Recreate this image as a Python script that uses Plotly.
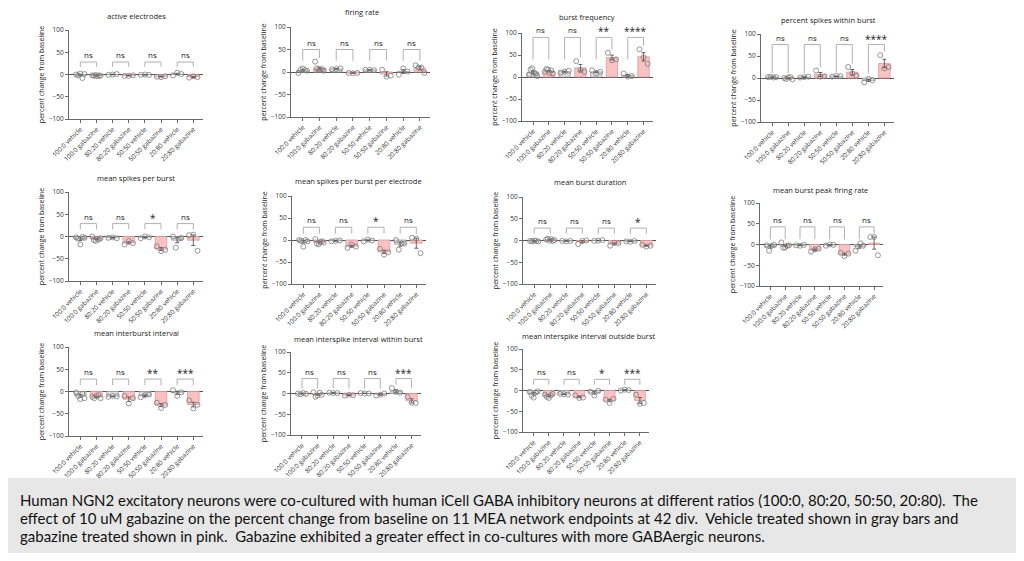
import numpy as np
import plotly.graph_objects as go

categories = ["100:0 vehicle", "100:0 gabazine", "80:20 vehicle", "80:20 gabazine",
              "50:50 vehicle", "50:50 gabazine", "20:80 vehicle", "20:80 gabazine"]

titles = ["active electrodes", "firing rate", "burst frequency", "percent spikes within burst",
          "mean spikes per burst", "mean spikes per burst per electrode", "mean burst duration",
          "mean burst peak firing rate", "mean interburst interval",
          "mean interspike interval within burst", "mean interspike interval outside burst"]

# individual wells, percent change from baseline
active_electrodes = [[0, -2, 2, -8, 1], [-2, -3, -1, -4, -2, -3], [-1, 0, 1], [-3, -3, -2],
                     [-1, 0, -1], [-5, -6, -4], [-2, 4, 1], [-7, -4, -6]]
firing_rate = [[-2, 5, 8, 4, 3], [23, 8, 5, 4, 6, 3], [6, 7, 8], [-2, -3, -2],
               [5, 5, 4], [5, -10, -8], [-6, 8, 1], [15, 10, 10, -2]]
burst_frequency = [[5, 17, 20, 10, 8, 2], [12, 18, 17, 10, 15, 8], [10, 12, 14], [36, 15, 12],
                   [15, 8, 12], [55, 38, 40], [8, 1, 2], [63, 45, 30]]
pct_spikes_in_burst = [[2, 3, 1, 2], [0, -2, 1, 2, -3], [1, 2, 3], [17, 3, 4],
                       [3, 5, 4], [25, 10, 5], [-10, -2, -5], [52, 22, 25]]
spikes_per_burst = [[-2, -5, -18, -1, -3], [0, -8, -10, -5, -7, -4], [-3, -2, -4], [-18, -10, -15],
                    [-4, 0, -2], [-22, -33, -30], [0, -25, -5, -3], [3, 4, -32]]
spikes_per_burst_electrode = [[0, -2, -15, 0, -3], [2, -8, -10, -5, -3, -6], [-3, -2, -1], [-18, -10, -15],
                              [-3, 1, -1], [-20, -33, -28], [0, -22, -8, -8], [5, 3, -30]]
burst_duration = [[-1, -2, 0, -1, -2], [2, 4, 0, 3, -1, 1], [-1, -2, -1], [-8, -1, 0],
                  [-1, 0, 1], [-12, -5, -6], [-2, -3, -1], [-10, -14, -12]]
burst_peak_rate = [[-2, -15, -3, -1], [5, -8, -7, -3, -2], [-2, -3, -1], [-17, -12, -10],
                   [-3, 0, -1], [-20, -28, -22], [-15, -5, 3, -3], [18, 18, -26]]
interburst_interval = [[-2, -10, -17, -5, -15], [-12, -15, -10, -8, -15], [-12, -10, -11], [-10, -27, -15],
                       [-13, -8, -7], [-25, -37, -30], [3, -10, -2], [-20, -38, -30]]
isi_within_burst = [[0, -2, 1, -1], [3, -8, -5, 2, -3], [2, 1, 1], [-5, -3, -4],
                    [1, 0, 0], [-5, -3, 0], [13, 4, 2], [-8, -22, -23]]
isi_outside_burst = [[-3, -12, -17, -5, -2], [-10, -15, -18, -12, -8], [-8, -9, -10], [-12, -18, -17],
                     [-3, -12, -1], [-22, -30, -20], [0, 2, 1], [-10, -32, -30]]

endpoints = [active_electrodes, firing_rate, burst_frequency, pct_spikes_in_burst,
             spikes_per_burst, spikes_per_burst_electrode, burst_duration, burst_peak_rate,
             interburst_interval, isi_within_burst, isi_outside_burst]

significance = [["ns", "ns", "ns", "ns"], ["ns", "ns", "ns", "ns"], ["ns", "ns", "**", "****"],
                ["ns", "ns", "ns", "****"], ["ns", "ns", "*", "ns"], ["ns", "ns", "*", "ns"],
                ["ns", "ns", "ns", "*"], ["ns", "ns", "ns", "ns"], ["ns", "ns", "**", "***"],
                ["ns", "ns", "ns", "***"], ["ns", "ns", "*", "***"]]

caption_lines = [
    "Human NGN2 excitatory neurons were co-cultured with human iCell GABA inhibitory neurons at different ratios (100:0, 80:20, 50:50, 20:80).\u00a0 The",
    "effect of 10 uM gabazine on the percent change from baseline on 11 MEA network endpoints at 42 div.\u00a0 Vehicle treated shown in gray bars and",
    "gabazine treated shown in pink.\u00a0 Gabazine exhibited a greater effect in co-cultures with more GABAergic neurons.",
]

# panel boxes in window pixels: x left, x right, y of +100, y of -100
boxes = [(69, 203, 30, 119), (291, 430, 27, 117), (522, 653, 33, 121), (761, 894, 34, 122),
         (69, 203, 192, 281), (292, 426, 196, 284), (523, 656, 197, 284), (760, 883, 203, 286),
         (69, 203, 347, 436), (291, 421, 352, 435), (523, 649, 349, 432)]
title_pos = [(136, 16), (362, 12), (587, 17), (828, 20), (136, 178), (358, 181), (590, 182),
             (820, 190), (136, 333), (358, 339), (588, 336)]
bracket_top = [28, 50, 90, 76, 29, 29, 28.5, 42.5, 28, 36, 27]
leg_len = [11, 25, 50, 66, 13, 15, 13, 30, 14, 24, 13]

# page body has an 8px margin on every side; keep the figure inside the window
OFF = 8
W, H = 1024 - 2 * OFF, 561 - 2 * OFF


def fx(p):
    return (p - OFF) / W


def fy(p):
    return 1 - (p - OFF) / H


FONT = "Open Sans, Noto Sans, sans-serif"
veh_fill, gab_fill = "#e0e0e0", "#f8c2c2"
veh_line, gab_line = "#a0a0a0", "#e09a9a"

fig = go.Figure()
annotations = []

for i, pts in enumerate(endpoints):
    k = i + 1
    xa = "x" if k == 1 else "x%d" % k
    ya = "y" if k == 1 else "y%d" % k
    means = [np.mean(p) for p in pts]
    sems = [np.std(p, ddof=1) / np.sqrt(len(p)) for p in pts]
    xs = list(range(len(categories)))

    fig.add_trace(go.Bar(
        x=xs, y=means, width=0.72, xaxis=xa, yaxis=ya,
        marker=dict(color=[veh_fill, gab_fill] * 4,
                    line=dict(color=[veh_line, gab_line] * 4, width=0.8)),
        error_y=dict(type="data", array=sems, color="#444", thickness=0.8, width=2),
        showlegend=False, hoverinfo="skip"))

    px_, py_ = [], []
    for j, p in enumerate(pts):
        offs = np.linspace(-0.26, 0.26, len(p))
        px_ += list(j + offs)
        py_ += list(p)
    fig.add_trace(go.Scatter(
        x=px_, y=py_, mode="markers", xaxis=xa, yaxis=ya,
        marker=dict(symbol="circle-open", size=5, color="#7a7a7a", line=dict(width=0.8)),
        showlegend=False, hoverinfo="skip"))

    # significance brackets
    bx, by = [], []
    for g in range(4):
        top = bracket_top[i]
        lv = max(top - leg_len[i], max(pts[2 * g]) + 8)
        rv = max(top - leg_len[i], max(pts[2 * g + 1]) + 8)
        lv, rv = min(lv, top - 3), min(rv, top - 3)
        bx += [2 * g, 2 * g, 2 * g + 1, 2 * g + 1, None]
        by += [lv, top, top, rv, None]
        lab = significance[i][g]
        annotations.append(dict(
            x=2 * g + 0.5, y=top, xref=xa, yref=ya, text=lab, showarrow=False,
            xanchor="center", yanchor="bottom", yshift=0 if lab == "ns" else -3,
            font=dict(size=8 if lab == "ns" else 10, color="#222", family=FONT)))
    fig.add_trace(go.Scatter(
        x=bx, y=by, mode="lines", xaxis=xa, yaxis=ya,
        line=dict(color="#a8a8a8", width=0.9), showlegend=False, hoverinfo="skip"))

    x0, x1, yt, yb = boxes[i]
    common = dict(showgrid=False, showline=True, linecolor="#6a6a6a", linewidth=0.9,
                  ticks="outside", ticklen=3, tickcolor="#6a6a6a", tickwidth=0.8,
                  automargin=False,
                  tickfont=dict(size=6.5, color="#333", family=FONT))
    fig.update_layout(**{
        ("xaxis" if k == 1 else "xaxis%d" % k): dict(
            domain=[fx(x0), fx(x1)], anchor=ya, range=[-0.7, 7.6],
            tickvals=xs, ticktext=categories, tickangle=-45, zeroline=False, **common),
        ("yaxis" if k == 1 else "yaxis%d" % k): dict(
            domain=[fy(yb), fy(yt)], anchor=xa, range=[-100, 100],
            tickvals=[-100, -50, 0, 50, 100], zeroline=True, zerolinecolor="#555",
            zerolinewidth=1,
            title=dict(text="percent change from baseline", standoff=3,
                       font=dict(size=7, color="#222", family=FONT)),
            **common),
    })

    tx, ty = title_pos[i]
    annotations.append(dict(x=fx(tx), y=fy(ty), xref="paper", yref="paper",
                            text=titles[i], showarrow=False, xanchor="center", yanchor="middle",
                            font=dict(size=7.5, color="#222", family=FONT)))

# caption, one annotation per line to keep the tight line spacing
for n, line in enumerate(caption_lines):
    annotations.append(dict(x=fx(18), y=fy(500 + 18 * n), xref="paper", yref="paper", text=line,
                            showarrow=False, xanchor="left", yanchor="middle", align="left",
                            font=dict(size=15, color="#111", family="Lato, sans-serif")))

fig.update_layout(
    width=W, height=H, margin=dict(l=0, r=0, t=0, b=0, autoexpand=False),
    paper_bgcolor="white", plot_bgcolor="white",
    annotations=annotations,
    shapes=[dict(type="rect", xref="paper", yref="paper", x0=fx(5), x1=fx(1020),
                 y0=fy(553), y1=fy(478), fillcolor="#e7e7e7", line=dict(width=0),
                 layer="below")])

fig.write_html("out.html")
